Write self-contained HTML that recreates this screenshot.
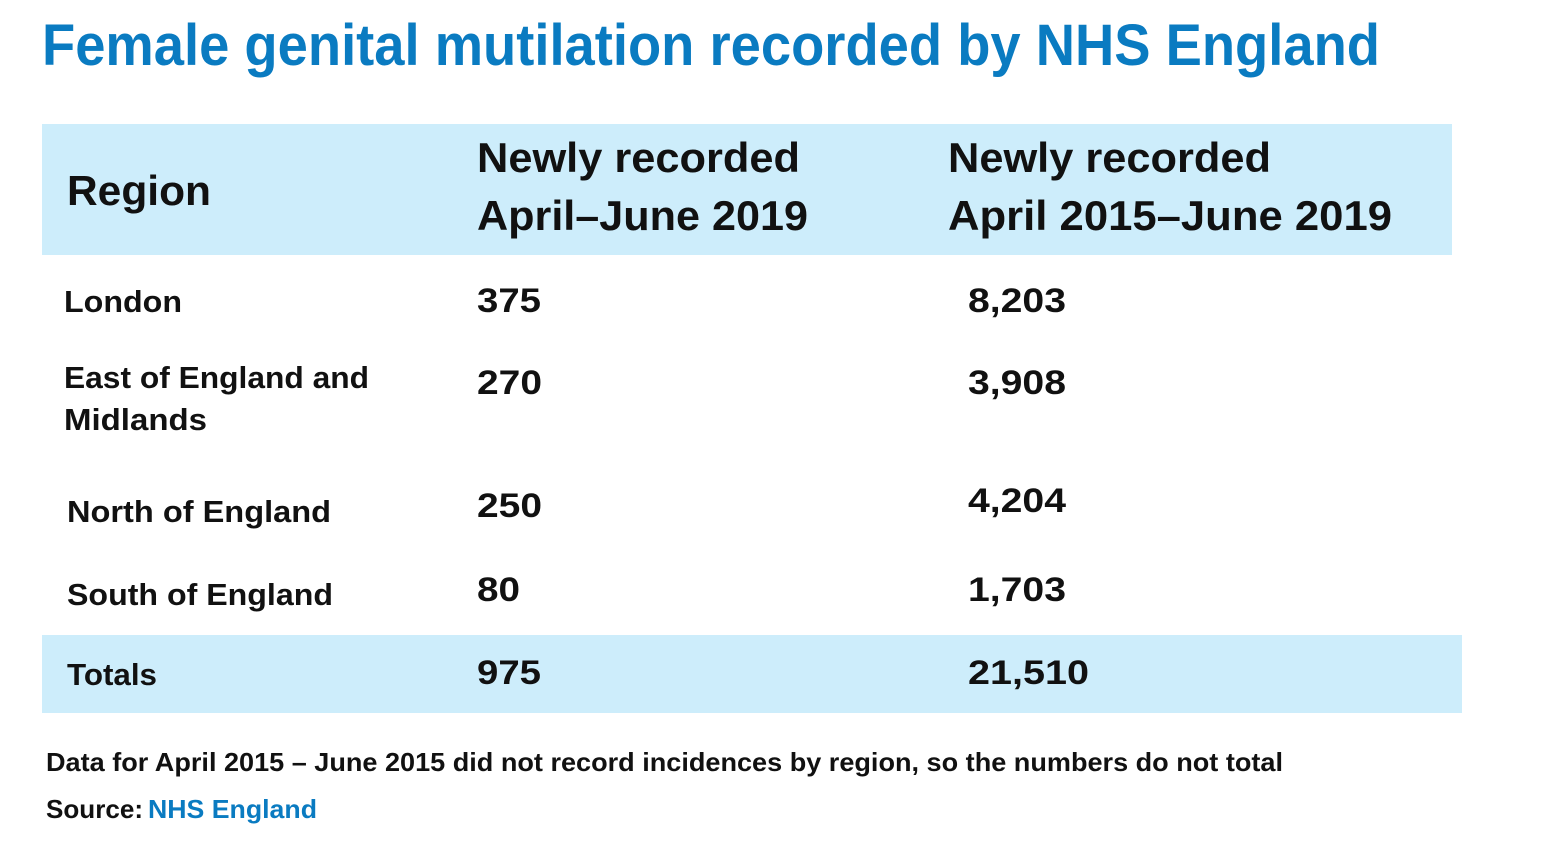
<!DOCTYPE html>
<html><head><meta charset="utf-8"><style>
html,body{margin:0;padding:0;background:#fff;}
svg{display:block;}
text{font-family:"Liberation Sans",Arial,sans-serif;font-weight:bold;fill:#111;}
.t{fill:#0a7bc1;}
.n{font-size:34px;}
</style></head><body>
<svg width="1545" height="849" viewBox="0 0 1545 849" xmlns="http://www.w3.org/2000/svg">
<rect width="1545" height="849" fill="#fff"/>
<text class="t" x="42" y="65" font-size="58" textLength="1338" lengthAdjust="spacingAndGlyphs">Female genital mutilation recorded by NHS England</text>
<rect x="42" y="124" width="1410" height="131" fill="#cdedfb"/>
<rect x="42" y="635" width="1420" height="78" fill="#cdedfb"/>
<g font-size="42">
<text x="67" y="205" textLength="144" lengthAdjust="spacingAndGlyphs">Region</text>
<text x="477" y="172" textLength="323" lengthAdjust="spacingAndGlyphs">Newly recorded</text>
<text x="477" y="230" textLength="331" lengthAdjust="spacingAndGlyphs">April–June 2019</text>
<text x="948" y="172" textLength="323" lengthAdjust="spacingAndGlyphs">Newly recorded</text>
<text x="948" y="230" textLength="444" lengthAdjust="spacingAndGlyphs">April 2015–June 2019</text>
</g>
<g font-size="31">
<text x="64" y="312" textLength="118" lengthAdjust="spacingAndGlyphs">London</text>
<text class="n" x="477" y="312" textLength="64" lengthAdjust="spacingAndGlyphs">375</text>
<text class="n" x="968" y="312" textLength="98" lengthAdjust="spacingAndGlyphs">8,203</text>
<text x="64" y="388" textLength="305" lengthAdjust="spacingAndGlyphs">East of England and</text>
<text x="64" y="430" textLength="143" lengthAdjust="spacingAndGlyphs">Midlands</text>
<text class="n" x="477" y="394" textLength="65" lengthAdjust="spacingAndGlyphs">270</text>
<text class="n" x="968" y="394" textLength="98" lengthAdjust="spacingAndGlyphs">3,908</text>
<text x="67" y="522" textLength="264" lengthAdjust="spacingAndGlyphs">North of England</text>
<text class="n" x="477" y="517" textLength="65" lengthAdjust="spacingAndGlyphs">250</text>
<text class="n" x="968" y="512" textLength="98" lengthAdjust="spacingAndGlyphs">4,204</text>
<text x="67" y="605" textLength="266" lengthAdjust="spacingAndGlyphs">South of England</text>
<text class="n" x="477" y="601" textLength="43" lengthAdjust="spacingAndGlyphs">80</text>
<text class="n" x="968" y="601" textLength="98" lengthAdjust="spacingAndGlyphs">1,703</text>
<text x="67" y="685" textLength="90" lengthAdjust="spacingAndGlyphs">Totals</text>
<text class="n" x="477" y="684" textLength="64" lengthAdjust="spacingAndGlyphs">975</text>
<text class="n" x="968" y="684" textLength="121" lengthAdjust="spacingAndGlyphs">21,510</text>
</g>
<g font-size="26">
<text x="46" y="771" textLength="1237" lengthAdjust="spacingAndGlyphs">Data for April 2015 – June 2015 did not record incidences by region, so the numbers do not total</text>
<text x="46" y="818" textLength="97" lengthAdjust="spacingAndGlyphs">Source:</text>
<text class="t" x="148" y="818" textLength="169" lengthAdjust="spacingAndGlyphs">NHS England</text>
</g>
</svg>
</body></html>
